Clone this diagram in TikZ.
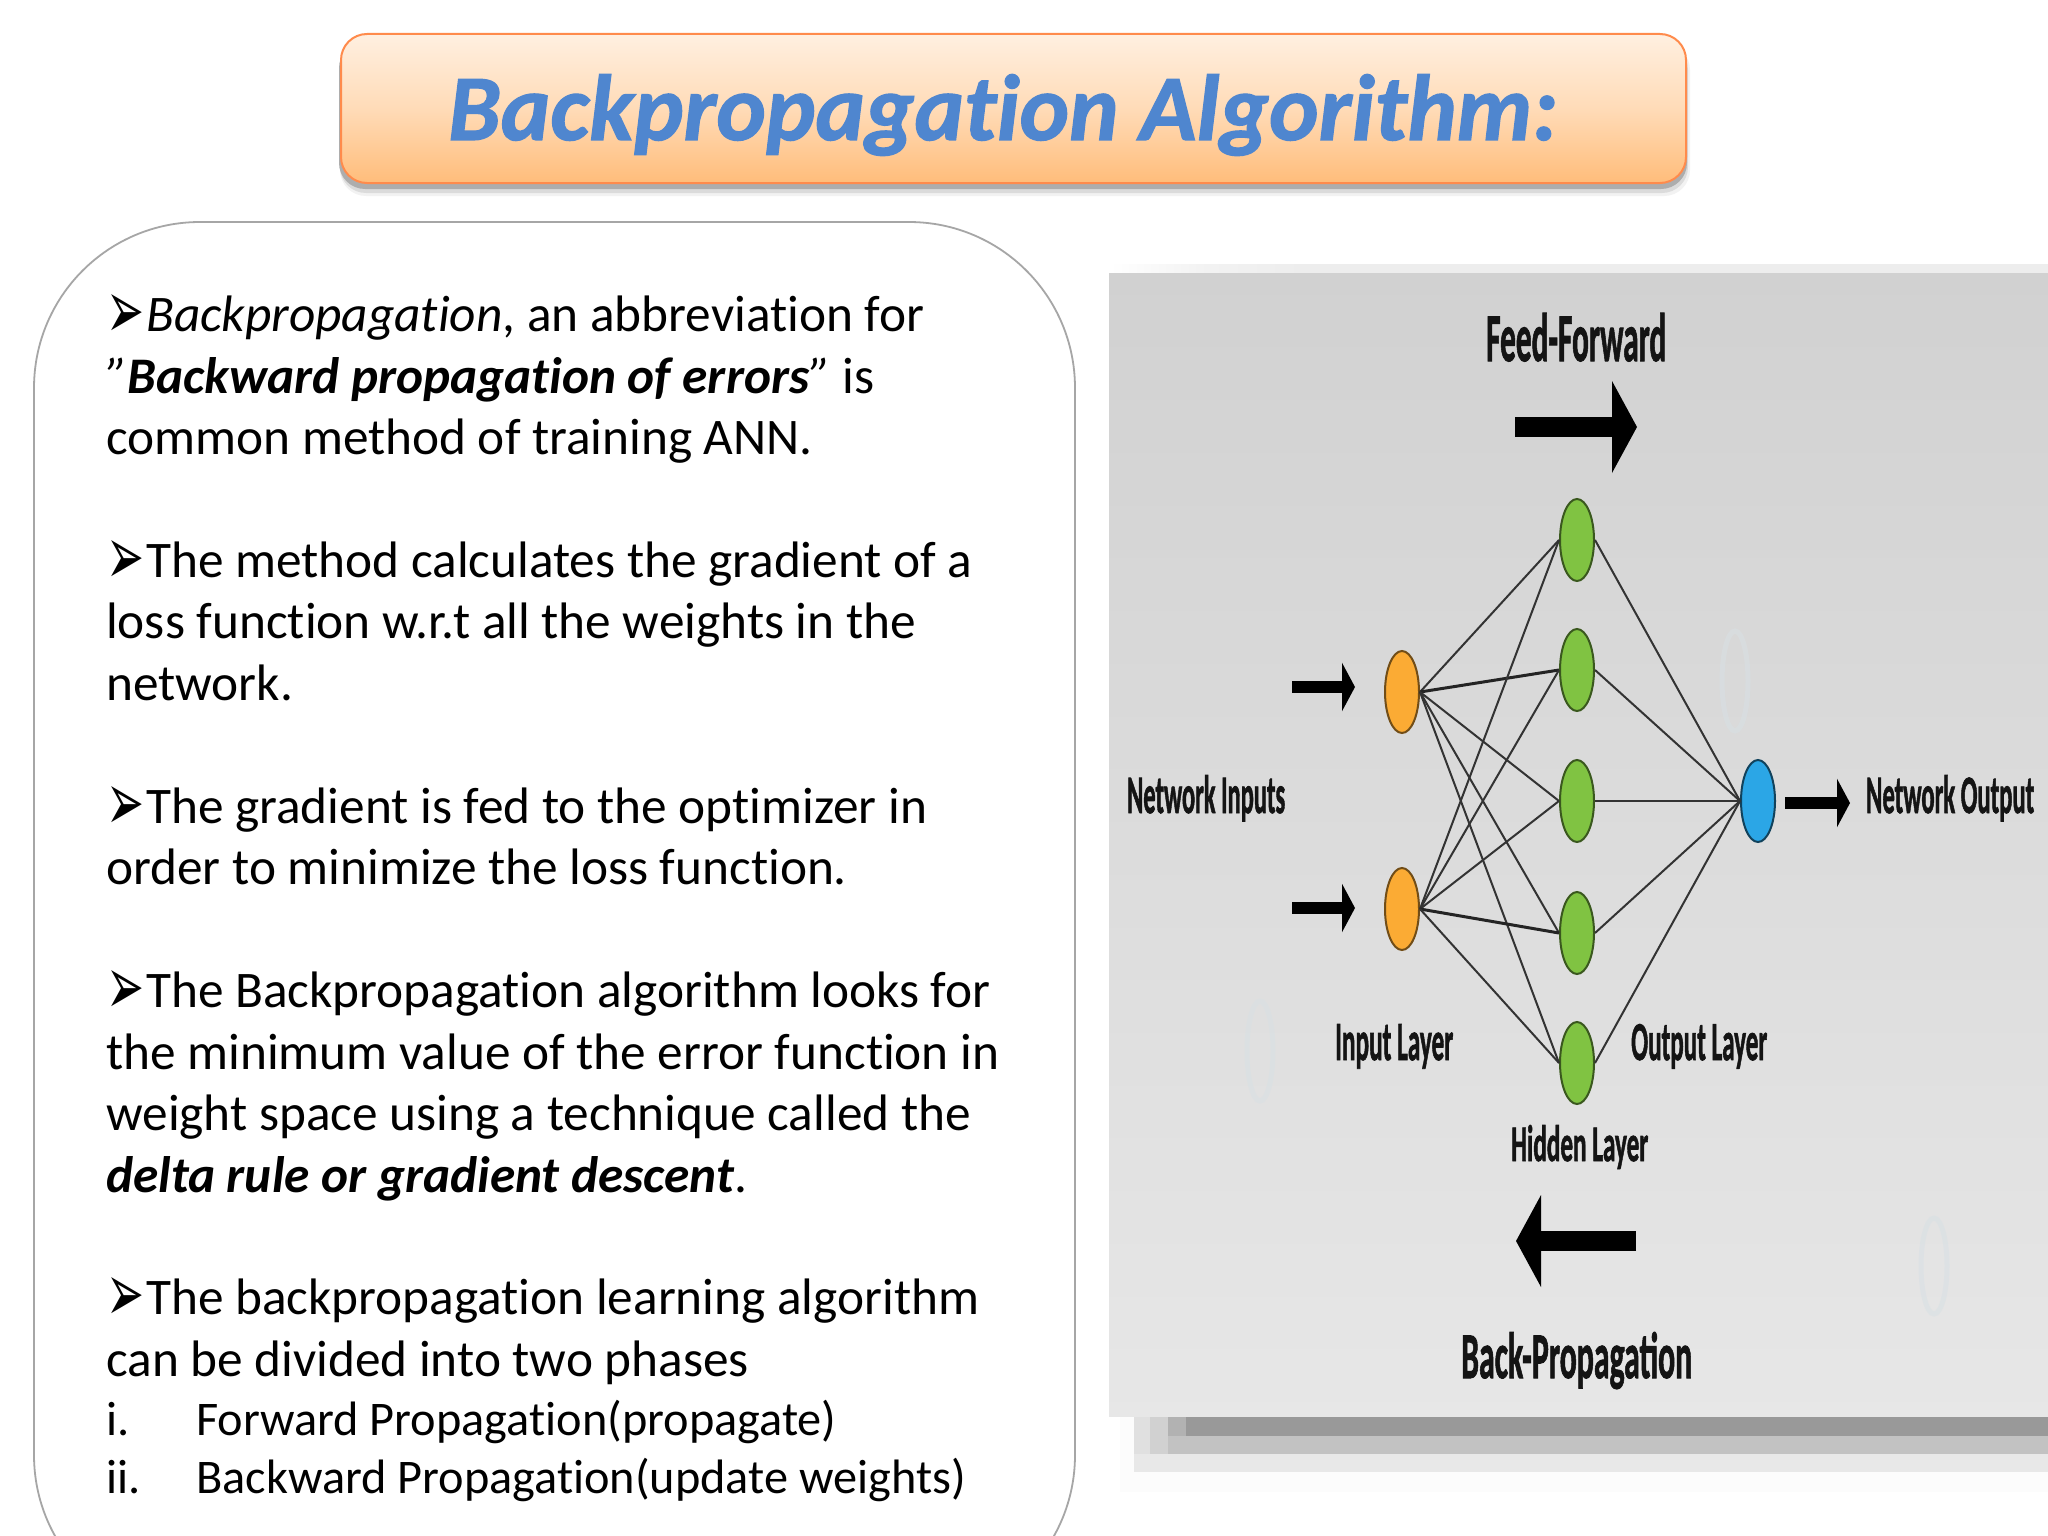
\documentclass[tikz,border=0pt]{standalone}
\usepackage{graphicx}
\usepackage{fontspec}
\setmainfont[Ligatures=NoCommon]{Carlito}
\newfontfamily\dingfont{DejaVu Sans}
\newfontfamily\labelfont[BoldFeatures={FakeBold=1.6}]{Carlito}
\newfontfamily\titlefont[Ligatures=NoCommon,BoldItalicFeatures={FakeBold=1.3}]{Carlito}
\usetikzlibrary{shapes.geometric,arrows.meta}
\definecolor{titleblue}{HTML}{4F86CF}
\definecolor{inkdark}{HTML}{141414}
\definecolor{edgegray}{HTML}{333333}
\definecolor{hiddengreen}{HTML}{80C342}
\definecolor{inputorange}{HTML}{FBAB34}
\definecolor{outputblue}{HTML}{2BA6E6}
\definecolor{markgray}{HTML}{D8E0E4}
\newcommand{\squeeze}[3]{\resizebox{#1pt}{#2pt}{#3}}
\newcommand{\bodyfont}{\fontsize{51.3}{60}\selectfont}
\newcommand{\listfont}{\fontsize{48.3}{58}\selectfont}
\newcommand{\pointer}{\raisebox{-7pt}{\resizebox{38pt}{44pt}{\dingfont ➢}}\hspace{2pt}}
\tikzset{
  x=1pt,y=-1pt,
  bodyline/.style={anchor=base west,inner sep=0pt,font=\bodyfont,text=black},
  listline/.style={anchor=base west,inner sep=0pt,font=\listfont,text=black},
  netlabel/.style={anchor=base west,inner sep=0pt,text=inkdark,font=\labelfont\bfseries},
  hiddennode/.style={ellipse,draw=black!55!hiddengreen,line width=2pt,fill=hiddengreen,minimum width=34pt,minimum height=82pt,inner sep=0pt},
  inputnode/.style={ellipse,draw=black!55!inputorange,line width=2pt,fill=inputorange,minimum width=34pt,minimum height=82pt,inner sep=0pt},
  outputnode/.style={ellipse,draw=black!60!outputblue,line width=2pt,fill=outputblue,minimum width=34pt,minimum height=82pt,inner sep=0pt},
  netedge/.style={draw=edgegray,line width=2pt},
  heavyedge/.style={draw=edgegray!70!black,line width=3pt},
  smallarrow/.style={draw=black,line width=12pt,-{Triangle[length=13pt,width=48pt]}},
  bigarrow/.style={draw=black,line width=20pt,-{Triangle[length=25pt,width=91pt]}},
  watermark/.style={draw=markgray,line width=5pt,opacity=.55},
}
\begin{document}
\begin{tikzpicture}
\clip (0,0) rectangle (2048,1536);
\fill[white] (0,0) rectangle (2048,1536);

% title banner
\fill[black!5,rounded corners=26pt] (340,44) rectangle (1690,196);
\fill[black!14,rounded corners=26pt] (340,44) rectangle (1688,193);
\fill[black!32,rounded corners=26pt] (339,42) rectangle (1687,189);
\draw[draw=orange!70!red!70!white,line width=2pt,rounded corners=26pt,top color=orange!12!white,bottom color=orange!52!white,middle color=orange!28!white] (341,34) rectangle (1686,183);
\node[anchor=base,inner sep=0pt,text=titleblue,font=\fontsize{93.8}{110}\selectfont\titlefont\bfseries\itshape] (title) at (1003,140) {Backpropagation Algorithm:};

% text panel
\draw[draw=black!35,line width=1.8pt,fill=white,rounded corners=166pt] (34,222) rectangle (1075,1621);
\node[bodyline] (a1) at (106,331) {\pointer\textit{Backpropagation}, an abbreviation for};
\node[bodyline] (a2) at (106,393) {\textit{”}\textbf{\textit{Backward propagation of errors}}\textit{”} is};
\node[bodyline] (a3) at (106,454) {common method of training ANN.};
\node[bodyline] (b1) at (106,577) {\pointer The method calculates the gradient of a};
\node[bodyline] (b2) at (106,638) {loss function w.r.t all the weights in the};
\node[bodyline] (b3) at (106,700) {network.};
\node[bodyline] (c1) at (106,823) {\pointer The gradient is fed to the optimizer in};
\node[bodyline] (c2) at (106,884) {order to minimize the loss function.};
\node[bodyline] (d1) at (106,1007) {\pointer The Backpropagation algorithm looks for};
\node[bodyline] (d2) at (106,1069) {the minimum value of the error function in};
\node[bodyline] (d3) at (106,1130) {weight space using a technique called the};
\node[bodyline] (d4) at (106,1192) {\textbf{\textit{delta rule or gradient descent}}.};
\node[bodyline] (e1) at (106,1314) {\pointer The backpropagation learning algorithm};
\node[bodyline] (e2) at (106,1376) {can be divided into two phases};
\node[listline] (e3) at (106,1435) {i.};
\node[listline] (e4) at (196,1435) {Forward Propagation(propagate)};
\node[listline] (e5) at (106,1493) {ii.};
\node[listline] (e6) at (196,1493) {Backward Propagation(update weights)};

% picture shadow
\fill[black!1] (1120,1416) rectangle (2048,1492);
\fill[black!9] (1134,1416) rectangle (2048,1472);
\fill[black!12] (1134,1416) rectangle (2048,1454);
\fill[black!18] (1150,1416) rectangle (2048,1454);
\fill[black!24] (1168,1416) rectangle (2048,1454);
\fill[black!30] (1168,1416) rectangle (1186,1436);
\fill[black!40] (1186,1416) rectangle (2048,1436);
\fill[left color=white,right color=black!7,middle color=black!5] (1110,264) rectangle (1300,273);
\fill[black!7] (1300,264) rectangle (2048,273);

% picture background
\shade[top color=black!18,bottom color=black!9.5] (1109,273) rectangle (2048,1416);

% faint watermarks
\draw[watermark] (1735,681) ellipse (13 and 50);
\draw[watermark] (1260,1051) ellipse (13 and 50);
\draw[watermark] (1934,1266) ellipse (13 and 48);

% network
\node[hiddennode] (h1) at (1577,540) {};
\node[hiddennode] (h2) at (1577,670) {};
\node[hiddennode] (h3) at (1577,801) {};
\node[hiddennode] (h4) at (1577,933) {};
\node[hiddennode] (h5) at (1577,1063) {};
\node[inputnode] (i1) at (1402,692) {};
\node[inputnode] (i2) at (1402,909) {};
\node[outputnode] (o1) at (1758,801) {};

\draw[netedge] (i1.east) -- (h1.west);
\draw[heavyedge] (i1.east) -- (h2.west);
\draw[netedge] (i1.east) -- (h3.west);
\draw[netedge] (i1.east) -- (h4.west);
\draw[netedge] (i1.east) -- (h5.west);
\draw[netedge] (i2.east) -- (h1.west);
\draw[netedge] (i2.east) -- (h2.west);
\draw[netedge] (i2.east) -- (h3.west);
\draw[heavyedge] (i2.east) -- (h4.west);
\draw[netedge] (i2.east) -- (h5.west);
\draw[netedge] (h1.east) -- (o1.west);
\draw[netedge] (h2.east) -- (o1.west);
\draw[netedge] (h3.east) -- (o1.west);
\draw[netedge] (h4.east) -- (o1.west);
\draw[netedge] (h5.east) -- (o1.west);

% arrows
\coordinate (fa) at (1292,687);
\coordinate (fb) at (1355,687);
\coordinate (ga) at (1292,908);
\coordinate (gb) at (1355,908);
\coordinate (ka) at (1785,803);
\coordinate (kb) at (1850,803);
\coordinate (ma) at (1515,427);
\coordinate (mb) at (1637,427);
\coordinate (na) at (1636,1241);
\coordinate (nb) at (1516,1241);
\draw[smallarrow] (fa) -- (fb);
\draw[smallarrow] (ga) -- (gb);
\draw[smallarrow] (ka) -- (kb);
\draw[bigarrow] (ma) -- (mb);
\draw[bigarrow] (na) -- (nb);

% labels
\node[netlabel] (l1) at (1486,361) {\squeeze{180}{48}{Feed-Forward}};
\node[netlabel] (l2) at (1127,813) {\squeeze{158}{38}{Network Inputs}};
\node[netlabel] (l3) at (1866,813) {\squeeze{168}{38}{Network Output}};
\node[netlabel] (l4) at (1335,1060) {\squeeze{118}{36}{Input Layer}};
\node[netlabel] (l5) at (1631,1060) {\squeeze{136}{36}{Output Layer}};
\node[netlabel] (l6) at (1511,1161) {\squeeze{137}{36}{Hidden Layer}};
\node[netlabel] (l7) at (1461,1378) {\squeeze{231}{46}{Back-Propagation}};
\end{tikzpicture}
\end{document}
